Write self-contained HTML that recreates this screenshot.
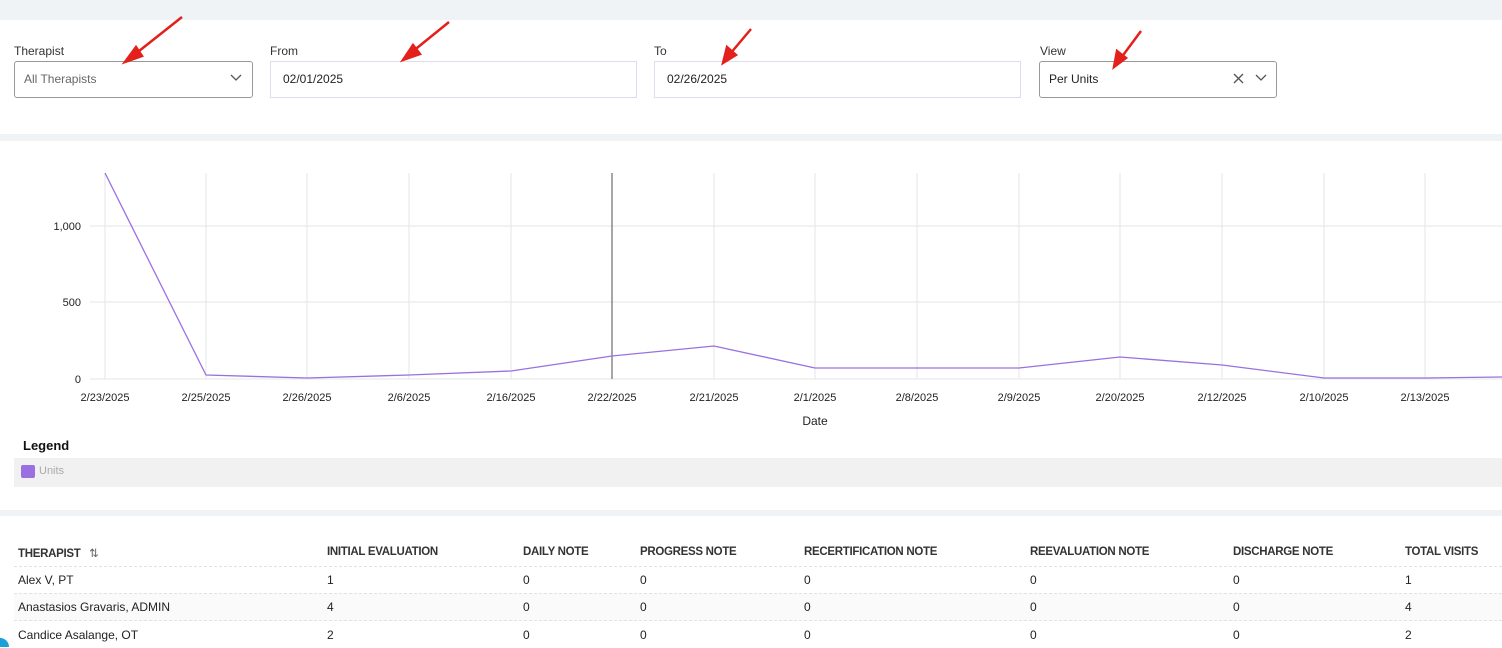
<!DOCTYPE html>
<html><head><meta charset="utf-8"><style>
body{margin:0;width:1502px;height:647px;overflow:hidden;background:#fff;font-family:"Liberation Sans",sans-serif;position:relative}
.band{position:absolute;left:0;width:1502px;background:#f0f3f6}
.lbl{position:absolute;font-size:12px;color:#333}
.box{position:absolute;height:37px;box-sizing:border-box;font-size:12px;color:#222;padding:0 12px;line-height:35px}
.th{position:absolute;font-size:11.5px;font-weight:bold;color:#333;top:546px;letter-spacing:-0.3px}
.td{position:absolute;font-size:12px;color:#222}
.row{position:absolute;left:14px;width:1488px;border-top:1px dashed #e2e2e2;height:27px}
</style></head><body>
<div class="band" style="top:0;height:20px"></div>
<div class="band" style="top:134px;height:7px"></div>
<div class="band" style="top:510px;height:6px"></div>
<div class="lbl" style="left:14px;top:44px">Therapist</div>
<div class="lbl" style="left:270px;top:44px">From</div>
<div class="lbl" style="left:654px;top:44px">To</div>
<div class="lbl" style="left:1040px;top:44px">View</div>
<div class="box" style="left:14px;top:61px;width:239px;border:1px solid #999;border-radius:3px;color:#666;padding-left:9px">All Therapists</div>
<div class="box" style="left:270px;top:61px;width:367px;border:1px solid #dde;">02/01/2025</div>
<div class="box" style="left:654px;top:61px;width:367px;border:1px solid #dde;">02/26/2025</div>
<div class="box" style="left:1039px;top:61px;width:238px;border:1px solid #999;border-radius:3px;padding-left:9px">Per Units</div>
<svg style="position:absolute;left:0;top:0" width="1502" height="647">
<g stroke="#555" stroke-width="1.3" fill="none">
<polyline points="231,75 236,80 241,75"/><polyline points="1256,75 1261,80 1266,75"/>
<line x1="1234" y1="74" x2="1243" y2="83"/><line x1="1243" y1="74" x2="1234" y2="83"/>
</g>
<g stroke="#e3201b" stroke-width="2.5" fill="#e3201b">
<line x1="182" y1="17" x2="134" y2="55"/><polygon points="125,62 136,47 142,56"/>
<line x1="449" y1="22" x2="412" y2="52"/><polygon points="403,60 413,45 420,54"/>
<line x1="751" y1="29" x2="730" y2="54"/><polygon points="723,63 727,47 736,55"/>
<line x1="1141" y1="31" x2="1121" y2="58"/><polygon points="1114,67 1117,51 1126,58"/>
</g>
<g stroke="#e6e6e6" stroke-width="1">
<line x1="105" y1="173" x2="105" y2="379"/><line x1="206" y1="173" x2="206" y2="379"/><line x1="307" y1="173" x2="307" y2="379"/><line x1="409" y1="173" x2="409" y2="379"/><line x1="511" y1="173" x2="511" y2="379"/><line x1="714" y1="173" x2="714" y2="379"/><line x1="815" y1="173" x2="815" y2="379"/><line x1="917" y1="173" x2="917" y2="379"/><line x1="1019" y1="173" x2="1019" y2="379"/><line x1="1120" y1="173" x2="1120" y2="379"/><line x1="1222" y1="173" x2="1222" y2="379"/><line x1="1324" y1="173" x2="1324" y2="379"/><line x1="1425" y1="173" x2="1425" y2="379"/>
<line x1="90" y1="226" x2="1502" y2="226"/><line x1="90" y1="302" x2="1502" y2="302"/><line x1="90" y1="379" x2="1502" y2="379"/>
</g>
<line x1="612" y1="173" x2="612" y2="379" stroke="#888" stroke-width="1.5"/>
<polyline fill="none" stroke="#9a70e0" stroke-width="1.3" points="105,173 206,375 307,378 409,375 511,371 612,356 714,346 815,368 917,368 1019,368 1120,357 1222,365 1324,378 1425,378 1502,377"/>
<g font-size="11" fill="#222" font-family="Liberation Sans" text-anchor="end">
<text x="81" y="230">1,000</text><text x="81" y="306">500</text><text x="81" y="383">0</text></g>
<g font-size="11" fill="#222" font-family="Liberation Sans" text-anchor="middle">
<text x="105" y="401">2/23/2025</text><text x="206" y="401">2/25/2025</text><text x="307" y="401">2/26/2025</text><text x="409" y="401">2/6/2025</text><text x="511" y="401">2/16/2025</text><text x="612" y="401">2/22/2025</text><text x="714" y="401">2/21/2025</text><text x="815" y="401">2/1/2025</text><text x="917" y="401">2/8/2025</text><text x="1019" y="401">2/9/2025</text><text x="1120" y="401">2/20/2025</text><text x="1222" y="401">2/12/2025</text><text x="1324" y="401">2/10/2025</text><text x="1425" y="401">2/13/2025</text>
<text x="815" y="425" font-size="12">Date</text></g>
<circle cx="0" cy="647" r="9" fill="#1a9fd6"/>
</svg>
<div style="position:absolute;left:23px;top:438px;font-size:13px;font-weight:bold;color:#111">Legend</div>
<div style="position:absolute;left:14px;top:458px;width:1488px;height:29px;background:#f1f1f1"></div>
<div style="position:absolute;left:21px;top:465px;width:14px;height:13px;background:#9a70e0;border-radius:2px"></div>
<div style="position:absolute;left:39px;top:465px;font-size:11px;color:#aaa">Units</div>
<div class="th" style="left:18px">THERAPIST &nbsp;&nbsp;<span style="font-weight:normal;color:#666">⇅</span></div>
<div class="th" style="left:327px">INITIAL EVALUATION</div>
<div class="th" style="left:523px">DAILY NOTE</div>
<div class="th" style="left:640px">PROGRESS NOTE</div>
<div class="th" style="left:804px">RECERTIFICATION NOTE</div>
<div class="th" style="left:1030px">REEVALUATION NOTE</div>
<div class="th" style="left:1233px">DISCHARGE NOTE</div>
<div class="th" style="left:1405px">TOTAL VISITS</div>
<div class="row" style="top:566px"></div><div class="row" style="top:593px;background:#fafafa"></div><div class="row" style="top:620px"></div>
<div class="td" style="left:18px;top:573px">Alex V, PT</div><div class="td" style="left:327px;top:573px">1</div><div class="td" style="left:523px;top:573px">0</div><div class="td" style="left:640px;top:573px">0</div><div class="td" style="left:804px;top:573px">0</div><div class="td" style="left:1030px;top:573px">0</div><div class="td" style="left:1233px;top:573px">0</div><div class="td" style="left:1405px;top:573px">1</div>
<div class="td" style="left:18px;top:600px">Anastasios Gravaris, ADMIN</div><div class="td" style="left:327px;top:600px">4</div><div class="td" style="left:523px;top:600px">0</div><div class="td" style="left:640px;top:600px">0</div><div class="td" style="left:804px;top:600px">0</div><div class="td" style="left:1030px;top:600px">0</div><div class="td" style="left:1233px;top:600px">0</div><div class="td" style="left:1405px;top:600px">4</div>
<div class="td" style="left:18px;top:628px">Candice Asalange, OT</div><div class="td" style="left:327px;top:628px">2</div><div class="td" style="left:523px;top:628px">0</div><div class="td" style="left:640px;top:628px">0</div><div class="td" style="left:804px;top:628px">0</div><div class="td" style="left:1030px;top:628px">0</div><div class="td" style="left:1233px;top:628px">0</div><div class="td" style="left:1405px;top:628px">2</div>
</body></html>
